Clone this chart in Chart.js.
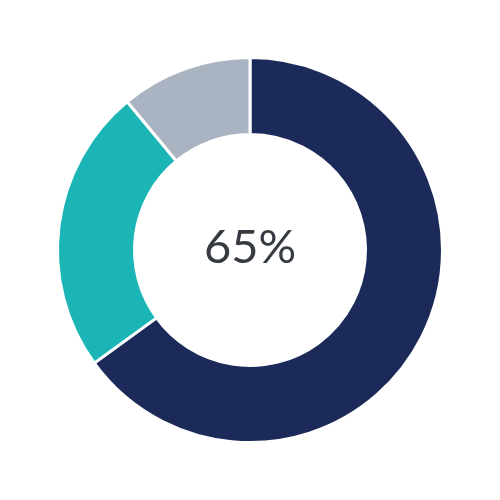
<!DOCTYPE html>
<html>
<head>
<meta charset="utf-8">
<script src="https://cdn.jsdelivr.net/npm/chart.js@4"></script>
<style>
  html, body { margin: 0; padding: 0; background: #fff; }
  #wrap { width: 500px; height: 500px; }
</style>
</head>
<body>
<div id="wrap"><canvas id="donutChart" width="500" height="500"></canvas></div>
<script>
const labels = ["Primary", "Secondary", "Other"];
const values = [65, 24, 11];
const colors = ["#1c2a5a", "#1bb5b6", "#a9b3c1"];
const centerLabel = "65%";

// draws the big number in the hole
const centerText = {
    id: "centerText",
    afterDraw(chart) {
        const { ctx, chartArea } = chart;
        const x = (chartArea.left + chartArea.right) / 2;
        const y = (chartArea.top + chartArea.bottom) / 2;
        ctx.save();
        ctx.font = "400 47px Lato";
        ctx.fillStyle = "#363b41";
        ctx.textAlign = "center";
        ctx.textBaseline = "middle";
        ctx.fillText(centerLabel, x, y - 2);
        ctx.restore();
    }
};

new Chart(document.getElementById("donutChart").getContext("2d"), {
    type: "doughnut",
    data: {
        labels: labels,
        datasets: [{
            data: values,
            backgroundColor: colors,
            borderColor: "#ffffff",
            borderWidth: 3
        }]
    },
    options: {
        responsive: false,
        animation: false,
        cutout: "60%",
        layout: { padding: 56 },
        plugins: {
            legend: { display: false },
            tooltip: { enabled: false }
        }
    },
    plugins: [centerText]
});
</script>
</body>
</html>
